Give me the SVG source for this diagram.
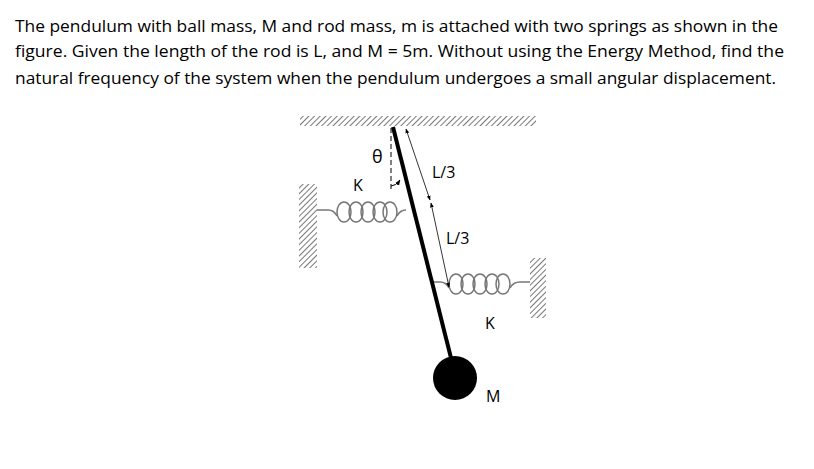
<svg xmlns="http://www.w3.org/2000/svg" width="814" height="469" viewBox="0 0 814 469">
<defs>
<pattern id="h" width="4" height="4" patternUnits="userSpaceOnUse" patternTransform="rotate(45)"><rect width="4" height="4" fill="#fff"/><line x1="0" y1="0" x2="0" y2="4" stroke="#555" stroke-width="1.6"/></pattern>
<marker id="a" viewBox="0 0 10 10" refX="9" refY="5" markerWidth="6" markerHeight="6" orient="auto-start-reverse"><path d="M0,1 L10,5 L0,9 z" fill="#000"/></marker>
</defs>
<style>
.t{font-family:"Open Sans","Liberation Sans",sans-serif;font-size:16.5px;fill:#000}
.l{font-family:"Open Sans","Liberation Sans",sans-serif;font-size:16px;fill:#000}
.sp{fill:none;stroke:#777;stroke-width:1.5}
</style>
<rect width="814" height="469" fill="#fff"/>
<text class="t" x="15" y="32" textLength="763" lengthAdjust="spacingAndGlyphs">The pendulum with ball mass, M and rod mass, m is attached with two springs as shown in the</text>
<text class="t" x="15" y="57" textLength="769" lengthAdjust="spacingAndGlyphs">figure. Given the length of the rod is L, and M = 5m. Without using the Energy Method, find the</text>
<text class="t" x="15" y="84" textLength="761" lengthAdjust="spacingAndGlyphs">natural frequency of the system when the pendulum undergoes a small angular displacement.</text>
<g id="ceiling"><rect x="300" y="116" width="236" height="10" fill="url(#h)"/></g>
<g id="leftwall"><rect x="299" y="184" width="18" height="84" fill="url(#h)"/></g>
<g id="rightwall"><rect x="530" y="258" width="16" height="60" fill="url(#h)"/></g>
<g id="leftspring">
<path class="sp" d="M317,210 H328 Q334,210 337,216 M397,216 Q400,210 406,210"/>
<ellipse class="sp" cx="344" cy="212" rx="7" ry="10"/>
<ellipse class="sp" cx="356" cy="212" rx="7" ry="10"/>
<ellipse class="sp" cx="368" cy="212" rx="7" ry="10"/>
<ellipse class="sp" cx="380" cy="212" rx="7" ry="10"/>
<ellipse class="sp" cx="390" cy="212" rx="7" ry="10"/>
</g>
<g id="rightspring">
<path class="sp" d="M433,282 H440 Q446,282 449,288 M510,288 Q513,282 520,282 H530"/>
<ellipse class="sp" cx="456" cy="284" rx="7" ry="10"/>
<ellipse class="sp" cx="468" cy="284" rx="7" ry="10"/>
<ellipse class="sp" cx="480" cy="284" rx="7" ry="10"/>
<ellipse class="sp" cx="492" cy="284" rx="7" ry="10"/>
<ellipse class="sp" cx="503" cy="284" rx="7" ry="10"/>
</g>
<g id="rod"><line x1="393" y1="127" x2="452" y2="362" stroke="#000" stroke-width="4"/></g>
<g id="ball"><circle cx="455" cy="378" r="22" fill="#000"/></g>
<g id="connectors">
<line x1="391" y1="128" x2="391" y2="192" stroke="#000" stroke-width="1" stroke-dasharray="5,3"/>
<path d="M391,186 Q396,186 400,180" fill="none" stroke="#000" stroke-width="1" marker-end="url(#a)"/>
<line x1="406" y1="129" x2="430" y2="200" stroke="#000" stroke-width="0.8" marker-start="url(#a)" marker-end="url(#a)"/>
<line x1="431" y1="203" x2="449" y2="287" stroke="#000" stroke-width="0.8" marker-start="url(#a)" marker-end="url(#a)"/>
</g>
<text class="l" x="372" y="163" style="font-size:18px">θ</text>
<text class="l" x="353" y="191">K</text>
<text class="l" x="432" y="178">L/3</text>
<text class="l" x="446" y="244">L/3</text>
<text class="l" x="485" y="329">K</text>
<text class="l" x="486" y="402">M</text>
</svg>
